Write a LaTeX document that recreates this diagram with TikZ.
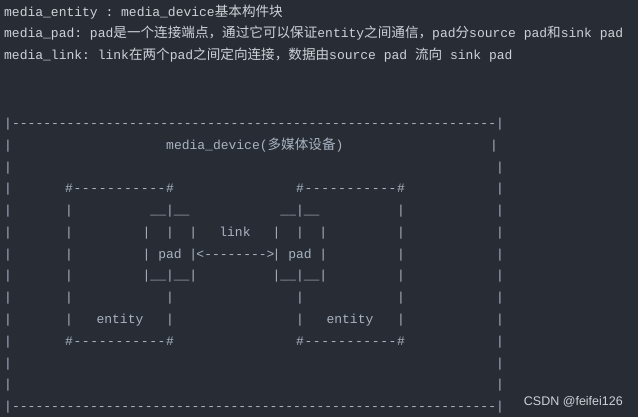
\documentclass[tikz,border=0pt]{standalone}
\usepackage{fontspec}
\setmonofont{Liberation Mono}
\setsansfont{Liberation Sans}
\newfontfamily\cjkf{Noto Sans CJK SC}
\newcommand{\zh}[1]{{\cjkf\fontsize{13.6}{16}\selectfont #1}}
\definecolor{bg}{HTML}{282C34}
\definecolor{fg}{HTML}{A9B4C2}
\definecolor{fgt}{HTML}{CDD2D9}
\begin{document}
\begin{tikzpicture}[x=1pt,y=-1pt,
  t/.style={inner sep=0pt,anchor=base,text=fg,font=\ttfamily\fontsize{13}{15}\selectfont},
  tl/.style={t,anchor=base west},
  top/.style={tl,text=fgt}]
\fill[bg] (0,0) rectangle (638,417);
\useasboundingbox (0,0) rectangle (638,417);
% top text
\node[top] (l1) at (4,16.5) {media\_entity : media\_device\zh{基本构件块}};
\node[top] (l2) at (4,37.5) {media\_pad: pad\zh{是一个连接端点，通过它可以保证}entity\zh{之间通信，}pad\zh{分}source pad\zh{和}sink pad};
\node[top] (l3) at (4,59.5) {media\_link: link\zh{在两个}pad\zh{之间定向连接，数据由}source pad \zh{流向} sink pad};
% outer box
\foreach \y [count=\i] in {127.5,149.3,171.1,192.8,214.6,236.4,258.1,279.9,301.7,323.4,345.2,367,388.8,410.5}{
  \node[t] (L\i) at (8,\y) {|};
  \ifnum\i=2 \node[t] (R\i) at (494,\y) {|};\else \node[t] (R\i) at (500,\y) {|};\fi
}
\foreach \i in {0,...,61}{
  \node[t] at (16+\i*7.806,127.5) {-};
  \node[t] at (16+\i*7.806,410.5) {-};
}
\node[tl] (title) at (166,149.3) {media\_device(\zh{多媒体设备})};
% entity boxes: \a left x, \b right x, \p x of the side that carries the pad
\foreach \a/\b/\n/\o in {69/170/A/69,300/401/B/401}{
  \node[t] (\n tl) at (\a,192.8) {\#};
  \node[t] (\n tr) at (\b,192.8) {\#};
  \node[t] (\n bl) at (\a,345.2) {\#};
  \node[t] (\n br) at (\b,345.2) {\#};
  \foreach \k in {1,...,11}{
    \node[t] at ({\a+\k*(\b-\a)/12},192.8) {-};
    \node[t] at ({\a+\k*(\b-\a)/12},345.2) {-};
  }
  \foreach \y in {214.6,236.4,258.1,279.9,301.7,323.4}{
    \node[t] at (\o,\y) {|};
  }
}
\foreach \x in {170,300}{
  \node[t] at (\x,301.7) {|};
  \node[t] at (\x,323.4) {|};
}
% pads
\foreach \c/\n in {170/P,300/Q}{
  \node[t] (\n1) at (\c,214.6) {\_\_|\_\_};
  \node[t] (\n2) at (\c,236.4) {|\ \ |\ \ |};
  \node[t] (\n3) at (\c,258.1) {| pad |};
  \node[t] (\n4) at (\c,279.9) {|\_\_|\_\_|};
}
\node[t] (link) at (235,236.4) {link};
\node[t] (arrow) at (235.5,258.1) {<-{}-{}-{}-{}-{}-{}-{}->};
\node[t] (e1) at (120,323.4) {entity};
\node[t] (e2) at (350,323.4) {entity};
\node[inner sep=0pt,anchor=base east,text=fgt,font=\sffamily\fontsize{12.5}{14}\selectfont] (wm) at (623,405) {CSDN @feifei126};
\end{tikzpicture}
\end{document}
